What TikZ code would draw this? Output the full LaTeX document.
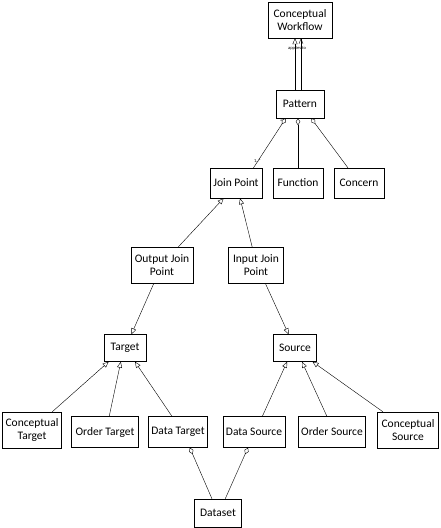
\documentclass[tikz,border=0pt]{standalone}
\usepackage{fontspec}
\setmainfont{Carlito}
\usetikzlibrary{arrows.meta,calc}

\tikzset{
    box/.style={draw, thin, align=center, font=\fontsize{11.5}{12.5}\selectfont, inner sep=1pt},
    gen/.style={thin, -{Triangle[open, length=6pt, width=5pt]}},
    agg/.style={thin, {Diamond[open, length=7pt, width=4.5pt]}-},
    tiny/.style={font=\fontsize{4.5}{4.5}\selectfont, inner sep=0.5pt}
}

\begin{document}
\begin{tikzpicture}[x=1pt, y=-1pt]
    \useasboundingbox (0,0) rectangle (441,528);

    % Top levels
    \node[box, minimum width=64, minimum height=36] (cw) at (300,20) {Conceptual\\Workflow};
    \node[box, minimum width=48, minimum height=28] (pat) at (300,104) {Pattern};
    \node[box, minimum width=52, minimum height=30] (jp) at (236,183) {Join Point};
    \node[box, minimum width=50, minimum height=30] (fn) at (298,183) {Function};
    \node[box, minimum width=50, minimum height=30] (cc) at (359,183) {Concern};

    % Join points
    \node[box, minimum width=62, minimum height=36] (ojp) at (162,265) {Output Join\\Point};
    \node[box, minimum width=55, minimum height=36] (ijp) at (256,265) {Input Join\\Point};
    \node[box, minimum width=42, minimum height=27] (tgt) at (125,348) {Target};
    \node[box, minimum width=43, minimum height=27] (src) at (295,348) {Source};

    % Leaves
    \node[box, minimum width=59, minimum height=36] (ct) at (32,430) {Conceptual\\Target};
    \node[box, minimum width=67, minimum height=31] (ot) at (105,432) {Order Target};
    \node[box, minimum width=59, minimum height=31] (dt) at (178,432) {Data Target};
    \node[box, minimum width=62, minimum height=31] (ds) at (254,432) {Data Source};
    \node[box, minimum width=67, minimum height=31] (os) at (332,432) {Order Source};
    \node[box, minimum width=61, minimum height=36] (cs) at (408,430) {Conceptual\\Source};
    \node[box, minimum width=47, minimum height=28] (dset) at (218,513) {Dataset};

    % Pattern to workflow
    \draw[gen] ([xshift=-5pt]pat.north) -- ([xshift=-5pt]cw.south);
    \draw[thin, -{Straight Barb[length=5pt, width=4pt]}] ([xshift=1pt]pat.north) -- ([xshift=1pt]cw.south);
    \node[tiny, below=7pt] (lapp) at ([xshift=-3pt]cw.south) {applies to};

    % Aggregations of pattern
    \draw[agg] (pat.-135) -- (jp.41);
    \draw[agg] (fn.north |- pat.south) -- (fn.north);
    \draw[agg] (pat.-52) -- (cc.126);
    \node[tiny, below left] (lone) at ([xshift=-3pt]pat.-135) {1};
    \node[tiny, right] (lmany) at ([yshift=7pt]jp.41) {1..*};

    % Generalizations
    \draw[gen] (ojp.48) -- (jp.-129);
    \draw[gen] (ijp.102) -- (jp.-75);
    \draw[gen] (ojp.-114) -- (tgt.65);
    \draw[gen] (ijp.-63) -- (src.115);
    \draw[gen] (ct.42) -- (tgt.-140);
    \draw[gen] (ot.75) -- (tgt.-107);
    \draw[gen] (dt.111) -- (tgt.-54);
    \draw[gen] (ds.62) -- (src.-120);
    \draw[gen] (os.108) -- (src.-63);
    \draw[gen] (cs.144) -- (src.-38);

    % Dataset
    \draw[agg] (dt.-53) -- (dset.113);
    \draw[agg] (ds.-111) -- (dset.63);
\end{tikzpicture}
\end{document}
